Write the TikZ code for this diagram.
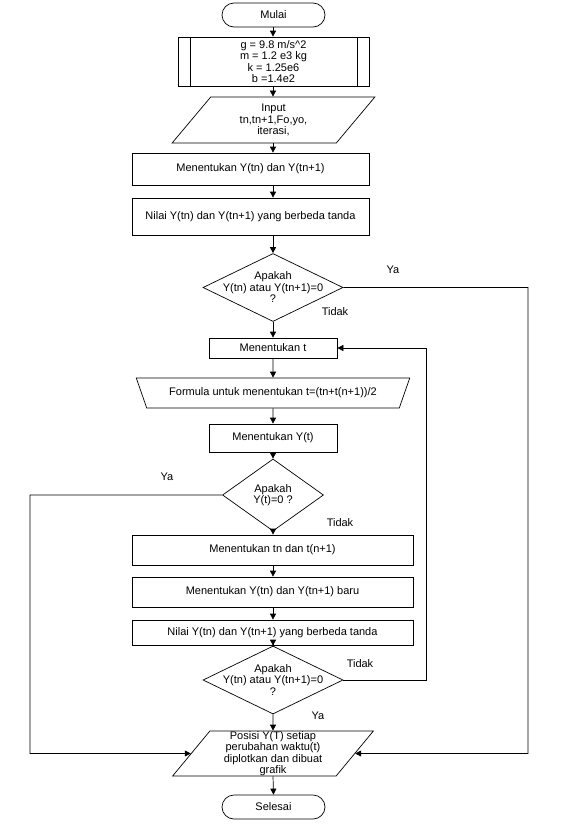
\documentclass[tikz,border=0pt]{standalone}
\usepackage{fontspec}
\setmainfont{Liberation Sans}
\usetikzlibrary{shapes.geometric, arrows.meta}

\begin{document}
\begin{tikzpicture}[x=1pt, y=-1pt, line width=0.7pt,
    every node/.style = {font=\fontsize{11}{11.5}\selectfont, align=center, inner sep=0pt},
    term/.style = {draw, rounded corners=12pt, minimum width=103pt, minimum height=24pt},
    proc/.style = {draw, rectangle},
    predef/.style = {draw, rectangle, minimum width=191pt, minimum height=49pt,
      path picture={\draw ([xshift=12pt]path picture bounding box.north west) -- ([xshift=12pt]path picture bounding box.south west)
        ([xshift=-12pt]path picture bounding box.north east) -- ([xshift=-12pt]path picture bounding box.south east);}},
    io/.style = {draw, trapezium, trapezium left angle=57, trapezium right angle=123, trapezium stretches=true},
    manual/.style = {draw, trapezium, trapezium left angle=130, trapezium right angle=130, trapezium stretches=true},
    dec/.style = {draw, diamond},
    lbl/.style = {draw=none},
    arr/.style = {-{Triangle[width=6pt, length=6pt]}}]
  \useasboundingbox (0, 0) rectangle (560, 830);
  \coordinate (ax) at (273, 0); % main axis
  \coordinate (ll) at (30, 0); % left return line
  \coordinate (lp) at (426, 0); % loop line
  \coordinate (rr) at (528, 0); % right return line

  \node[term] (s) at (273.5, 15) {Mulai};
  \node[predef] (c) at (273.5, 61.5) {g = 9.8 m/s\textasciicircum 2\\m = 1.2 e3 kg\\k = 1.25e6\\b =1.4e2};
  \node[io, minimum width=203pt, minimum height=46pt] (in) at (273.5, 120) {Input\\tn,tn+1,Fo,yo,\\iterasi,};
  \node[proc, minimum width=237pt, minimum height=32pt] (p1) at (250.5, 169) {Menentukan Y(tn) dan Y(tn+1)};
  \node[proc, minimum width=237pt, minimum height=37pt] (p2) at (250.5, 216.5) {Nilai Y(tn) dan Y(tn+1) yang berbeda tanda};
  \node[dec, minimum width=140pt, minimum height=68pt,
    label={[align=center]center:Apakah\\Y(tn) atau Y(tn+1)=0\\?}] (d1) at (273, 287.5) {};
  \node[proc, minimum width=128pt, minimum height=20pt] (p3) at (273, 348) {Menentukan t};
  \node[manual, minimum width=274pt, minimum height=30pt] (f) at (273, 393) {Formula untuk menentukan t=(tn+t(n+1))/2};
  \node[proc, minimum width=128pt, minimum height=28pt] (p4) at (273, 438) {Menentukan Y(t)};
  \node[dec, minimum width=101pt, minimum height=72pt,
    label={[align=center]center:Apakah\\Y(t)=0 ?}] (d2) at (273, 495) {};
  \node[proc, minimum width=281pt, minimum height=30pt] (p5) at (272.5, 550) {Menentukan tn dan t(n+1)};
  \node[proc, minimum width=281pt, minimum height=30pt] (p6) at (272.5, 592) {Menentukan Y(tn) dan Y(tn+1) baru};
  \node[proc, minimum width=281pt, minimum height=25pt] (p7) at (272.5, 632.5) {Nilai Y(tn) dan Y(tn+1) yang berbeda tanda};
  \node[dec, minimum width=140pt, minimum height=68pt,
    label={[align=center]center:Apakah\\Y(tn) atau Y(tn+1)=0\\?}] (d3) at (273, 680) {};
  \node[io, minimum width=201pt, minimum height=45pt] (out) at (273, 753.5) {Posisi Y(T) setiap\\perubahan waktu(t)\\diplotkan dan dibuat\\grafik};
  \node[term] (e) at (273.5, 807) {Selesai};

  \node[lbl] (ya1) at (393, 270) {Ya};
  \node[lbl] (td1) at (335, 312) {Tidak};
  \node[lbl] (ya2) at (167, 477) {Ya};
  \node[lbl] (td2) at (340, 523) {Tidak};
  \node[lbl] (td3) at (360, 664) {Tidak};
  \node[lbl] (ya3) at (318, 716) {Ya};

  \draw[arr] (ax |- s.south) -- (ax |- c.north);
  \draw[arr] (ax |- c.south) -- (ax |- in.north);
  \draw[arr] (ax |- in.south) -- (ax |- p1.north);
  \draw[arr] (ax |- p1.south) -- (ax |- p2.north);
  \draw[arr] (ax |- p2.south) -- (d1.north);
  \draw[arr] (d1.south) -- (p3.north);
  \draw[arr] (p3.south) -- (f.north);
  \draw[arr] (f.south) -- (p4.north);
  \draw[arr] (p4.south) -- (d2.north);
  \draw[arr] (d2.south) -- (ax |- p5.north);
  \draw[arr] (ax |- p5.south) -- (ax |- p6.north);
  \draw[arr] (ax |- p6.south) -- (ax |- p7.north);
  \draw[arr] (ax |- p7.south) -- (d3.north);
  \draw[arr] (d3.south) -- (out.north);
  \draw[arr] (out.south) -- (e.north);
  \draw[arr] (d1.east) -| (rr |- out) -- (out);
  \draw[arr] (d2.west) -| (ll |- out) -- (out);
  \draw[arr] (d3.east) -| (lp |- p3) -- (p3);
\end{tikzpicture}
\end{document}
